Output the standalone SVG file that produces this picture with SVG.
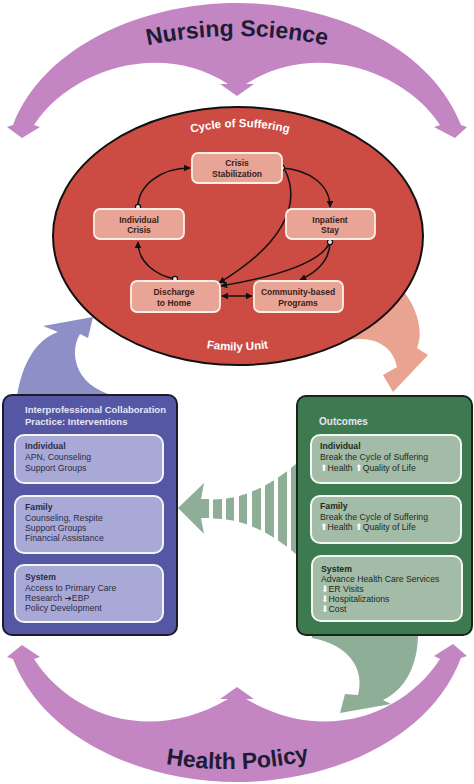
<svg xmlns="http://www.w3.org/2000/svg" width="474" height="784" viewBox="0 0 474 784">
<style>
text{font-family:"Liberation Sans","DejaVu Sans",Arial,sans-serif}
.arc{fill:#c386c2}
.big{font-size:23px;font-weight:bold;fill:#1c1c36}
.ring{fill:#cc4c44;stroke:#111;stroke-width:2}
.ringlbl{font-size:11.5px;font-weight:bold;fill:#fff}
.node rect{fill:#e8a494;stroke:#fbeee6;stroke-width:1.8}
.node text{font-size:8.5px;font-weight:bold;fill:#3a1d1d;text-anchor:middle}
.conn path{fill:none;stroke:#111;stroke-width:1.5}
.dot{fill:#dde4e4;stroke:#111;stroke-width:1.2}
.bluebox{fill:#5557a4;stroke:#1b1b2a;stroke-width:2}
.blueinner{fill:#a9a9d7;stroke:#f4f4fb;stroke-width:2}
.greenbox{fill:#3e7a50;stroke:#172417;stroke-width:2}
.greeninner{fill:#a2bca7;stroke:#f4f8f4;stroke-width:2}
.title{font-size:9.5px;font-weight:bold;fill:#e6e6f6}
.t{font-size:8.7px;fill:#2c2c44}
.tg{font-size:8.7px;fill:#1e2a1e}
.b{font-weight:bold}
.w{fill:#fff;font-family:"DejaVu Sans",sans-serif;font-size:9px}
</style>
<defs>
<marker id="ah" viewBox="0 0 10 10" refX="9" refY="5" markerWidth="4.6" markerHeight="4.6" orient="auto-start-reverse"><path d="M0,0 L10,5 L0,10 z" fill="#111"/></marker>
<path id="pNS" d="M132,49 Q237,23 342,49"/>
<path id="pHP" d="M150,761 Q237,779 325,757"/>
<path id="pCS" d="M183,135 Q240,119 297,135"/>
<path id="pFU" d="M195,346 Q237,355 280,346"/>
</defs>

<!-- big arrows -->
<g id="arrows-flow">
<path d="M395,282 C415,300 425,330 417,348 L428,355 L393,392 L383,375 L397,367 C393,345 372,333 340,342 Z" fill="#e9a391"/>
<path d="M17,396 C22,365 35,340 58,332 L43,326 L93,317 L88,338 L80,334 C70,350 72,385 115,396 Z" fill="#8f8fc8"/>
<path d="M312,634 L418,634 C418,665 405,690 383,700 L391,704 L340,713 L345,694 L358,695 C365,670 350,645 312,638 Z" fill="#8fae97"/>
<g fill="#8fae97">
<path d="M178,508 L204,483 L201,499 L209,499 L209,518 L201,518 L204,534 Z"/>
<polygon points="213,499.5 222,499.1 222,518.9 213,518.5"/>
<polygon points="226,498.6 234,497.2 234,520.8 226,519.4"/>
<polygon points="239,496 247,493.5 247,524.5 239,522"/>
<polygon points="252,491.6 261,487.6 261,530.4 252,526.4"/>
<polygon points="265,485.5 274,480.3 274,537.7 265,532.5"/>
<polygon points="278,477.6 287,471.2 287,546.8 278,540.4"/>
<polygon points="291,468 297,463 297,555 291,550"/>
</g>
</g>

<g id="nursing-science">
<path class="arc" d="M7,127 L22,138 L40,127 L34,125 C70,70 160,40 228,84 L220,84 L237,96 L254,84 L246,84 C314,40 404,70 440,125 L434,127 L455,138 L467,127 L461,125 C430,45 330,3 237,3 C144,3 44,45 13,125 Z"/>
<text class="big"><textPath href="#pNS" startOffset="50%" text-anchor="middle">Nursing Science</textPath></text>
</g>

<g id="health-policy">
<path class="arc" d="M7,657 L22,645 L40,657 L34,659 C70,715 150,745 228,699 L220,699 L237,687 L254,699 L246,699 C324,745 404,715 440,659 L434,656 L453,644 L467,656 L461,658 C430,740 330,782 237,782 C144,782 44,740 13,659 Z"/>
<text class="big"><textPath href="#pHP" startOffset="50%" text-anchor="middle">Health Policy</textPath></text>
</g>

<g id="family-unit">
<ellipse class="ring" cx="238" cy="236" rx="185" ry="129"/>
<text class="ringlbl"><textPath href="#pCS" startOffset="50%" text-anchor="middle">Cycle of Suffering</textPath></text>
<text class="ringlbl"><textPath href="#pFU" startOffset="50%" text-anchor="middle">Family Unit</textPath></text>
</g>

<g id="connectors" class="conn">
<path d="M138,207 C138,186 160,168 190,168" marker-end="url(#ah)"/>
<path d="M282,168 C310,170 330,185 330,207" marker-end="url(#ah)"/>
<path d="M285,170 C302,205 282,245 219,283" marker-end="url(#ah)"/>
<path d="M330,242 C330,260 317,272 300,280" marker-end="url(#ah)"/>
<path d="M330,242 C320,266 262,279 221,286" marker-end="url(#ah)"/>
<path d="M175,279 C155,275 138,262 138,242" marker-end="url(#ah)"/>
<path d="M222,296 L252,296" marker-start="url(#ah)" marker-end="url(#ah)"/>
<circle class="dot" cx="138" cy="207" r="2.6"/>
<circle class="dot" cx="282" cy="168" r="2.6"/>
<circle class="dot" cx="330" cy="242" r="2.6"/>
<circle class="dot" cx="175" cy="279" r="2.6"/>
</g>

<g id="crisis-stabilization" class="node"><rect x="192" y="153" width="90" height="30" rx="6"/><text x="237" y="166">Crisis</text><text x="237" y="177">Stabilization</text></g>
<g id="individual-crisis" class="node"><rect x="94" y="209" width="90" height="30" rx="6"/><text x="139" y="222.5">Individual</text><text x="139" y="233">Crisis</text></g>
<g id="inpatient-stay" class="node"><rect x="286" y="209" width="89" height="30" rx="6"/><text x="330" y="222.5">Inpatient</text><text x="330" y="233">Stay</text></g>
<g id="discharge-home" class="node"><rect x="131" y="281" width="89" height="31" rx="6"/><text x="174" y="295">Discharge</text><text x="174" y="305.5">to Home</text></g>
<g id="community-programs" class="node"><rect x="254" y="281" width="89" height="31" rx="6"/><text x="298" y="295">Community-based</text><text x="298" y="305.5">Programs</text></g>

<g id="interventions">
<rect class="bluebox" x="3" y="395" width="174" height="240" rx="9"/>
<text class="title" x="25" y="413">Interprofessional Collaboration</text>
<text class="title" x="25" y="425">Practice: Interventions</text>
<rect class="blueinner" x="15" y="435" width="148" height="48" rx="9"/>
<text class="t" x="25" y="449"><tspan class="b">Individual</tspan><tspan x="25" dy="11">APN, Counseling</tspan><tspan x="25" dy="11">Support Groups</tspan></text>
<rect class="blueinner" x="15" y="496" width="148" height="57" rx="9"/>
<text class="t" x="25" y="510"><tspan class="b">Family</tspan><tspan x="25" dy="10.5">Counseling, Respite</tspan><tspan x="25" dy="10.3">Support Groups</tspan><tspan x="25" dy="10.3">Financial Assistance</tspan></text>
<rect class="blueinner" x="15" y="565" width="148" height="57" rx="9"/>
<text class="t" x="25" y="580"><tspan class="b">System</tspan><tspan x="25" dy="10.5">Access to Primary Care</tspan><tspan x="25" dy="10.3">Research ➔EBP</tspan><tspan x="25" dy="10.3">Policy Development</tspan></text>
</g>

<g id="outcomes">
<rect class="greenbox" x="297" y="396" width="175" height="239" rx="9"/>
<text class="title" x="319" y="425" style="font-size:10px">Outcomes</text>
<rect class="greeninner" x="311" y="435" width="150" height="48" rx="9"/>
<text class="tg" x="320" y="449"><tspan class="b">Individual</tspan><tspan x="320" dy="11">Break the Cycle of Suffering</tspan><tspan x="320" dy="11"><tspan class="w">⬆</tspan>Health <tspan class="w">⬆</tspan>Quality of Life</tspan></text>
<rect class="greeninner" x="311" y="496" width="150" height="47" rx="9"/>
<text class="tg" x="320" y="509"><tspan class="b">Family</tspan><tspan x="320" dy="10.5">Break the Cycle of Suffering</tspan><tspan x="320" dy="10.5"><tspan class="w">⬆</tspan>Health <tspan class="w">⬆</tspan>Quality of Life</tspan></text>
<rect class="greeninner" x="312" y="556" width="150" height="65" rx="9"/>
<text class="tg" x="321" y="572"><tspan class="b">System</tspan><tspan x="321" dy="10">Advance Health Care Services</tspan><tspan x="321" dy="10"><tspan class="w">⬇</tspan>ER Visits</tspan><tspan x="321" dy="10"><tspan class="w">⬇</tspan>Hospitalizations</tspan><tspan x="321" dy="10"><tspan class="w">⬇</tspan>Cost</tspan></text>
</g>
</svg>
